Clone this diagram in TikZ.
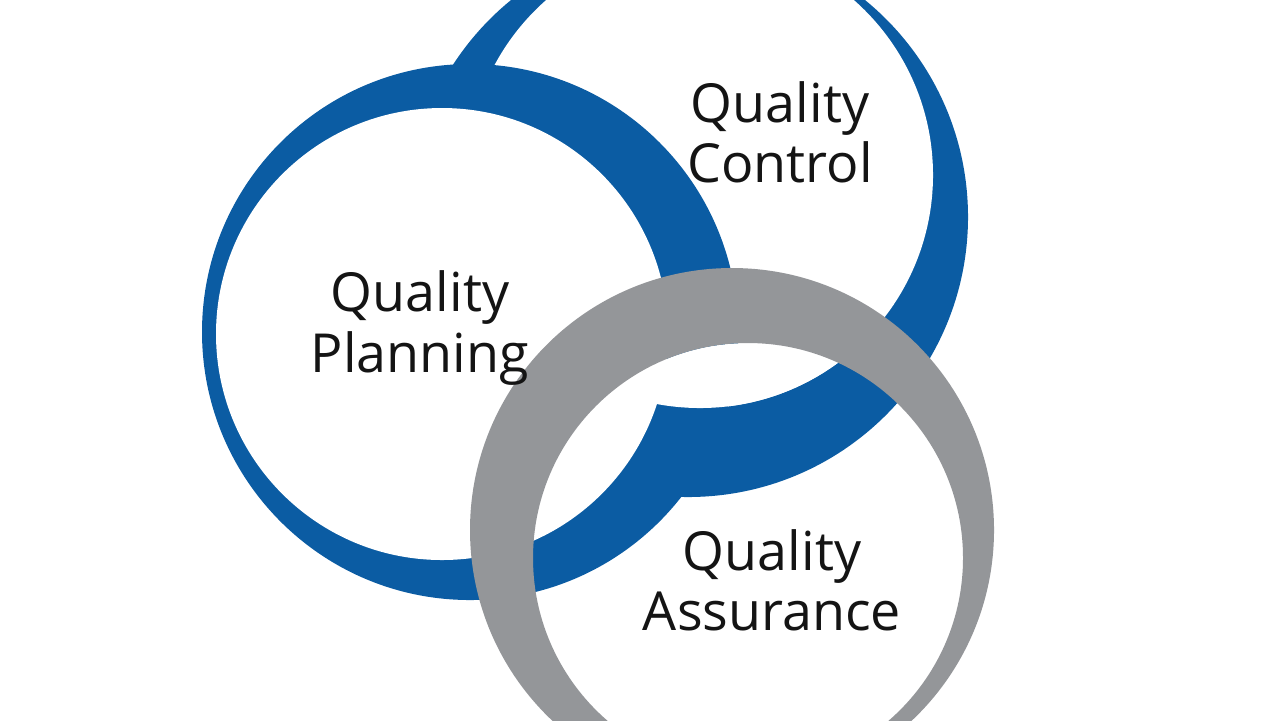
\documentclass[tikz,border=0pt]{standalone}
\usepackage{fontspec}
\setmainfont{Open Sans}
\definecolor{qblue}{HTML}{0B5CA3}
\definecolor{qgray}{HTML}{949699}
\tikzset{
    qtext/.style={
        align=center, inner sep=0pt, text=black!92,
        font=\fontsize{15.3}{17.1}\selectfont
    },
}

\begin{document}
\begin{tikzpicture}[x=0.01cm,y=0.01cm]
    \clip (0,0) rectangle (1280,-720);
    \fill[white] (0,0) rectangle (1280,-720);

    % control ring (lowest)
    \fill[qblue] (688,-217) circle (280);
    \fill[white] (700,-175) circle (233);
    % planning ring
    \fill[qblue] (470,-332) circle (268);
    \fill[white] (442,-334) circle (226);
    % inside the grey ring the control hole lies on top
    \begin{scope}
        \clip (748,-558) circle (215);
        \fill[white] (700,-175) circle (233);
    \end{scope}
    % assurance ring, open inside
    \fill[qgray, even odd rule] (732,-530) circle (262) (748,-558) circle (215);

    \node[qtext] (plan)  at (420,-328) {Quality\\Planning};
    \node[qtext] (ctrl)  at (780,-132) {Quality\\Control};
    \node[qtext] (assur) at (772,-580) {Quality\\Assurance};
\end{tikzpicture}
\end{document}
